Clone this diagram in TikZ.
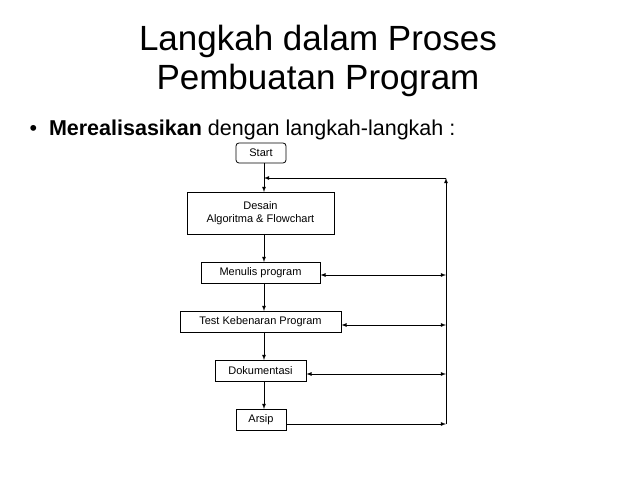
\documentclass[tikz,border=0pt]{standalone}
\usepackage{fontspec}
\setmainfont{Liberation Sans}
\begin{document}
\begin{tikzpicture}[x=1pt,y=-1pt,
  box/.style={draw,thick,minimum height=21pt,inner sep=0pt,font=\fontsize{11}{13.5}\selectfont,align=center},
  ar/.style={-latex,thick},
  dar/.style={latex-latex,thick}]
\useasboundingbox (0,0) rectangle (638,478);
\node[font=\fontsize{35}{39}\selectfont,align=center] (title) at (318,61) {Langkah dalam Proses\\Pembuatan Program};
\node[anchor=west,font=\fontsize{21.5}{26}\selectfont] (bul) at (26,130) {\textbullet\ \ \textbf{Merealisasikan} dengan langkah-langkah :};
\node[box,rounded corners=3pt,minimum width=50pt,minimum height=20pt] (s) at (261,153) {Start};
\node[box,minimum width=147pt,minimum height=42pt] (d) at (260.5,213) {Desain\\Algoritma \& Flowchart};
\node[box,minimum width=119pt] (m) at (260.5,272.5) {Menulis program};
\node[box,minimum width=161pt] (t) at (260.5,321.5) {Test Kebenaran Program};
\node[box,minimum width=91pt] (k) at (260.5,370.5) {Dokumentasi};
\node[box,minimum width=50pt] (a) at (261,419.5) {Arsip};
\coordinate (top) at (446,178);
\coordinate (bot) at (446,424);
\coordinate (j) at (264,178);
\draw[ar] (264,163) -- (264,192);
\draw[ar] (264,234) -- (264,262);
\draw[ar] (264,283) -- (264,311);
\draw[ar] (264,332) -- (264,360);
\draw[ar] (264,381) -- (264,409);
\draw[ar] (bot) -- (top);
\draw[ar] (top) -- (j);
\draw[dar] (m.east |- 0,275) -- (446,275);
\draw[dar] (t.east |- 0,325) -- (446,325);
\draw[dar] (k.east |- 0,374) -- (446,374);
\draw[ar] (a.east |- 0,424) -- (446,424);
\end{tikzpicture}
\end{document}
